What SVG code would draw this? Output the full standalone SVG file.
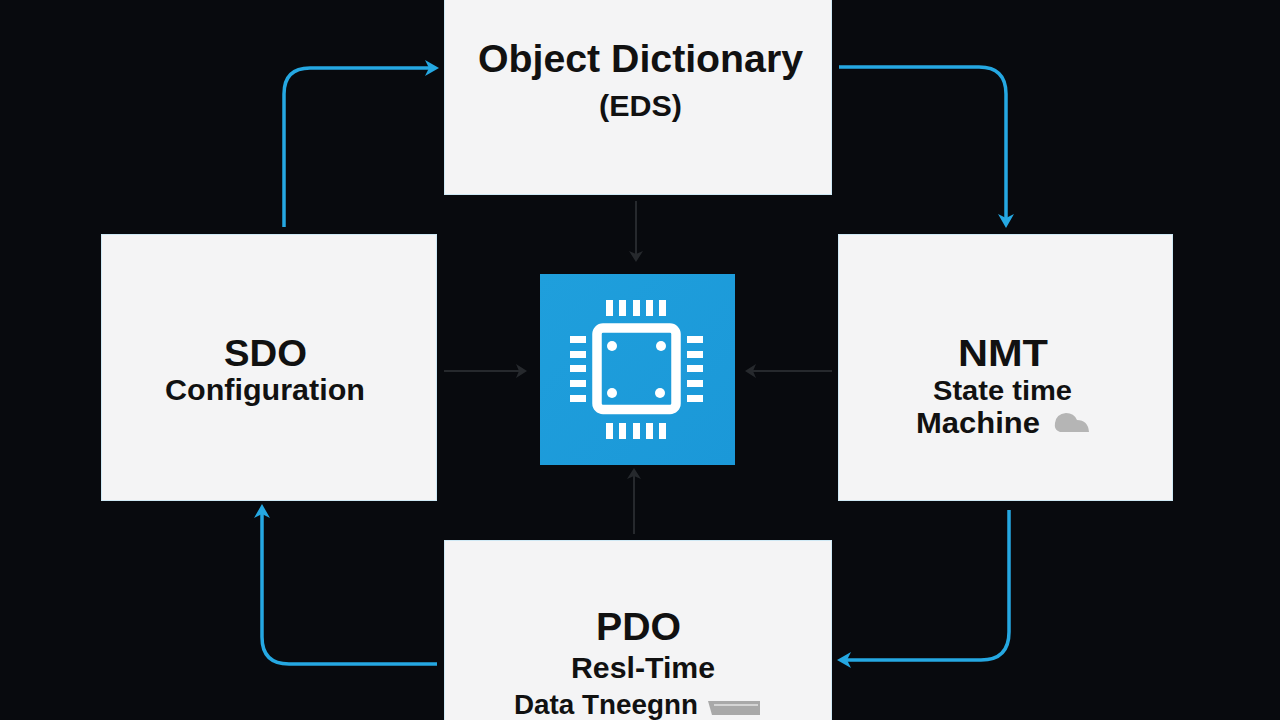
<svg xmlns="http://www.w3.org/2000/svg" width="1280" height="720" viewBox="0 0 1280 720">
<style>
.box{fill:#f4f4f5;stroke:#cfe9f5;stroke-width:1}
.t{font-family:"Liberation Sans",Arial,sans-serif;fill:#111;text-anchor:middle;font-weight:700}
.blue{fill:none;stroke:#25a8e2;stroke-width:3.5}
.dim{fill:none;stroke:#26292d;stroke-width:2}
.w{fill:#fff}
</style>
<defs>
<marker id="ab" markerUnits="userSpaceOnUse" markerWidth="18" markerHeight="18" refX="9" refY="9" orient="auto"><path d="M1 1L15 9L1 17L5 9Z" fill="#25a8e2"/></marker>
<marker id="ad" markerUnits="userSpaceOnUse" markerWidth="18" markerHeight="18" refX="9" refY="9" orient="auto"><path d="M4 2L15 9L4 16L7 9Z" fill="#26292d"/></marker>
<linearGradient id="chip" x1="0" y1="0" x2="1" y2="1"><stop offset="0" stop-color="#1f9fdc"/><stop offset="1" stop-color="#1b98d8"/></linearGradient>
</defs>
<rect width="1280" height="720" fill="#080a0e"/>
<g id="connectors">
<path class="blue" marker-end="url(#ab)" d="M284 227V94Q284 68 310 68H433"/>
<path class="blue" marker-end="url(#ab)" d="M839 67H979Q1006 67 1006 94V222"/>
<path class="blue" marker-end="url(#ab)" d="M1009 510V632Q1009 660 981 660H843"/>
<path class="blue" marker-end="url(#ab)" d="M437 664H289Q262 664 262 637V510"/>
<path class="dim" marker-end="url(#ad)" d="M636 201V256"/>
<path class="dim" marker-end="url(#ad)" d="M444 371H521"/>
<path class="dim" marker-end="url(#ad)" d="M832 371H751"/>
<path class="dim" marker-end="url(#ad)" d="M634 534V474"/>
</g>
<g id="node-object-dictionary">
<rect class="box" x="444.500" y="-2" width="387" height="196.500"/>
<text class="t" x="640.500" y="72" font-size="38" textLength="325" lengthAdjust="spacingAndGlyphs">Object Dictionary</text>
<text class="t" x="640.500" y="116" font-size="29" font-weight="400" textLength="83" lengthAdjust="spacingAndGlyphs">(EDS)</text>
</g>
<g id="node-sdo">
<rect class="box" x="101.500" y="234.500" width="335" height="266"/>
<text class="t" x="265.500" y="366" font-size="37" textLength="83" lengthAdjust="spacingAndGlyphs">SDO</text>
<text class="t" x="265" y="400" font-size="29" textLength="200" lengthAdjust="spacingAndGlyphs">Configuration</text>
</g>
<g id="node-nmt">
<rect class="box" x="838.500" y="234.500" width="334" height="266"/>
<text class="t" x="1003" y="366" font-size="37" textLength="90" lengthAdjust="spacingAndGlyphs">NMT</text>
<text class="t" x="1002.500" y="400" font-size="28" textLength="139" lengthAdjust="spacingAndGlyphs">State time</text>
<text class="t" x="978" y="433" font-size="29" textLength="124" lengthAdjust="spacingAndGlyphs">Machine</text>
<path d="M1058 431q-4-2-3-8q1-9 11-10q8 0 11 7q11 0 12 12h-29z" fill="#b5b5b5"/>
</g>
<g id="node-pdo">
<rect class="box" x="444.500" y="540.500" width="387" height="182"/>
<text class="t" x="638.500" y="640" font-size="38" textLength="85" lengthAdjust="spacingAndGlyphs">PDO</text>
<text class="t" x="643" y="678" font-size="29" textLength="144" lengthAdjust="spacingAndGlyphs">Resl-Time</text>
<text class="t" x="606" y="714" font-size="27" textLength="184" lengthAdjust="spacingAndGlyphs">Data Tneegnn</text>
<path d="M708 701h52v14h-48z" fill="#a9a9a9"/>
<path d="M714 705h44" stroke="#e4e4e4" stroke-width="1.500" fill="none"/>
</g>
<g id="node-mcu">
<rect x="540" y="274" width="195" height="191" fill="url(#chip)"/>
<rect x="597" y="328" width="79" height="81.500" rx="6" fill="none" stroke="#fff" stroke-width="9.500"/>
<circle class="w" cx="612" cy="346" r="5"/><circle class="w" cx="661" cy="346" r="5"/><circle class="w" cx="612" cy="393" r="5"/><circle class="w" cx="660" cy="393" r="5"/>
<g class="w">
<rect x="606" y="300" width="7" height="16"/><rect x="619" y="300" width="7" height="16"/><rect x="633" y="300" width="7" height="16"/><rect x="646" y="300" width="7" height="16"/><rect x="659" y="300" width="7" height="16"/>
<rect x="606" y="423" width="7" height="16"/><rect x="619" y="423" width="7" height="16"/><rect x="633" y="423" width="7" height="16"/><rect x="646" y="423" width="7" height="16"/><rect x="659" y="423" width="7" height="16"/>
<rect x="570" y="336" width="16" height="7"/><rect x="570" y="351" width="16" height="7"/><rect x="570" y="365" width="16" height="7"/><rect x="570" y="380" width="16" height="7"/><rect x="570" y="395" width="16" height="7"/>
<rect x="687" y="336" width="16" height="7"/><rect x="687" y="351" width="16" height="7"/><rect x="687" y="365" width="16" height="7"/><rect x="687" y="380" width="16" height="7"/><rect x="687" y="395" width="16" height="7"/>
</g>
</g>
</svg>
